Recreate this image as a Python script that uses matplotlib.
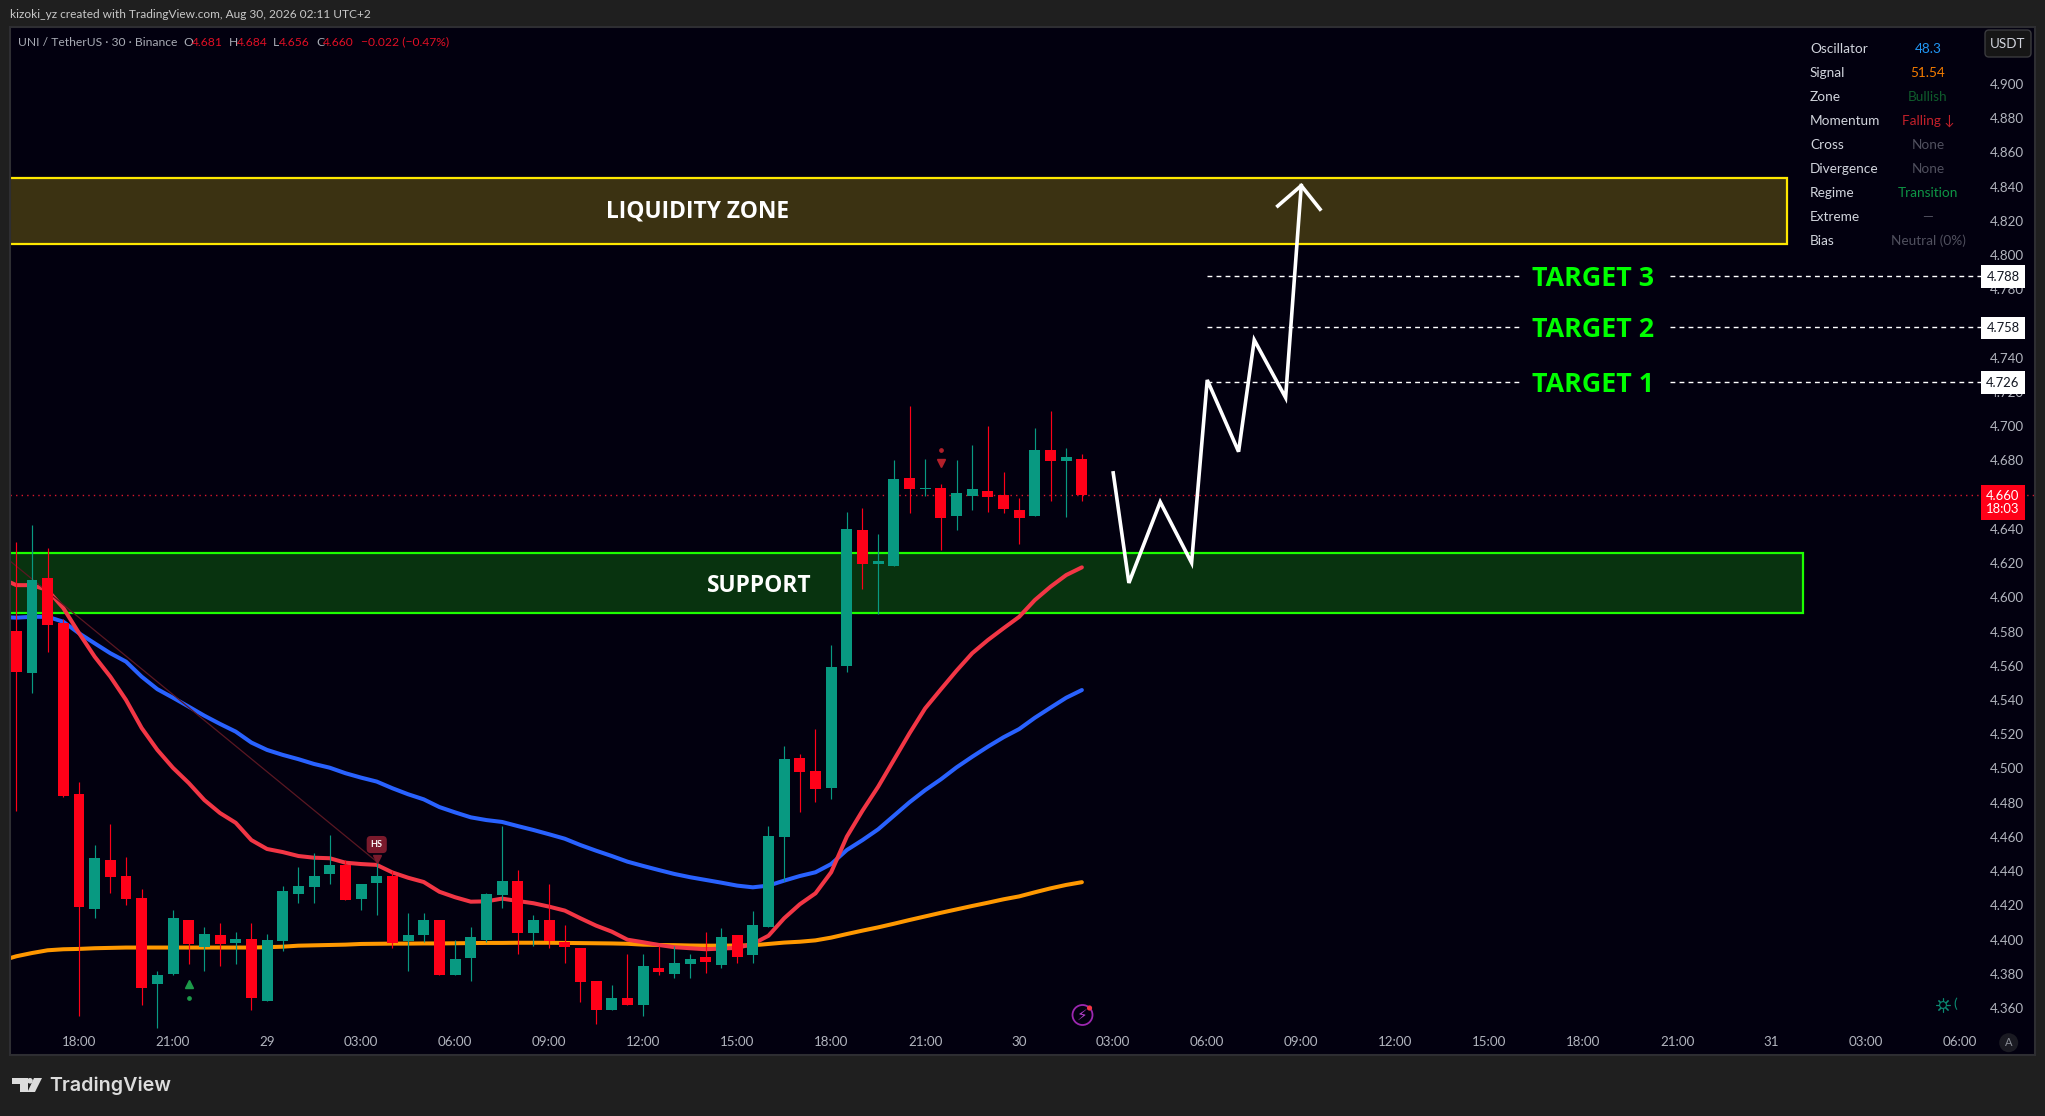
import matplotlib
matplotlib.use('Agg')
import matplotlib.pyplot as plt
from matplotlib.patches import Rectangle, Polygon, Circle, FancyBboxPatch

plt.rcParams['font.family'] = ['Lato', 'DejaVu Sans']

# candles, 30 min bars, index 0 is the 18:00 bar of the 28th
bar_index = list(range(-4, 65))
opens = [4.5803, 4.5559, 4.6112, 4.5850, 4.4850, 4.4180, 4.4465, 4.4371, 4.4243, 4.3741,
         4.3800, 4.4114, 4.3958, 4.4027, 4.3981, 4.4003, 4.3642, 4.3994, 4.4268, 4.4309,
         4.4380, 4.4436, 4.4239, 4.4332, 4.4371, 4.3994, 4.4027, 4.4114, 4.3790, 4.3893,
         4.3999, 4.4260, 4.4342, 4.4040, 4.4114, 4.3987, 4.3953, 4.3757, 4.3589, 4.3658,
         4.3619, 4.3833, 4.3800, 4.3859, 4.3898, 4.3853, 4.4027, 4.3912, 4.4071, 4.4601,
         4.5060, 4.4984, 4.4887, 4.5601, 4.6394, 4.6197, 4.6185, 4.6698, 4.6635, 4.6639,
         4.6477, 4.6594, 4.6622, 4.6598, 4.6511, 4.6477, 4.6861, 4.6797, 4.6810]
highs = [4.6324, 4.6423, 4.6289, 4.5873, 4.4920, 4.4552, 4.4675, 4.4480, 4.4295, 4.3815,
         4.4173, 4.4114, 4.4073, 4.4097, 4.4044, 4.4097, 4.4032, 4.4313, 4.4424, 4.4506,
         4.4611, 4.4465, 4.4325, 4.4455, 4.4398, 4.4155, 4.4155, 4.4114, 4.3997, 4.4073,
         4.4270, 4.4663, 4.4406, 4.4143, 4.4325, 4.4085, 4.3953, 4.3757, 4.3734, 4.3915,
         4.3915, 4.3962, 4.3962, 4.3915, 4.4044, 4.4067, 4.4027, 4.4167, 4.4663, 4.5130,
         4.5084, 4.5230, 4.5721, 4.6498, 4.6522, 4.6370, 4.6803, 4.7118, 4.6809, 4.6663,
         4.6803, 4.6891, 4.7001, 4.6732, 4.6581, 4.6990, 4.7089, 4.6873, 4.6840]
lows = [4.4752, 4.5443, 4.5682, 4.4834, 4.3554, 4.4127, 4.4274, 4.4204, 4.3619, 4.3484,
        4.3794, 4.3859, 4.3817, 4.3846, 4.3859, 4.3589, 4.3642, 4.3935, 4.4215, 4.4215,
        4.4327, 4.4233, 4.4174, 4.4145, 4.3948, 4.3817, 4.3987, 4.3790, 4.3790, 4.3759,
        4.3987, 4.4186, 4.3918, 4.3964, 4.3948, 4.3865, 4.3636, 4.3508, 4.3589, 4.3617,
        4.3554, 4.3794, 4.3777, 4.3777, 4.3806, 4.3835, 4.3865, 4.3865, 4.4071, 4.4344,
        4.4747, 4.4805, 4.4823, 4.5565, 4.6048, 4.5904, 4.6185, 4.6495, 4.6594, 4.6274,
        4.6396, 4.6513, 4.6501, 4.6495, 4.6314, 4.6477, 4.6565, 4.6471, 4.6560]
closes = [4.5565, 4.6101, 4.5840, 4.4840, 4.4192, 4.4476, 4.4366, 4.4239, 4.3718, 4.3792,
          4.4126, 4.3972, 4.4032, 4.3972, 4.4005, 4.3659, 4.3997, 4.4284, 4.4313, 4.4371,
          4.4436, 4.4233, 4.4325, 4.4371, 4.3981, 4.4027, 4.4114, 4.3790, 4.3886, 4.4015,
          4.4266, 4.4342, 4.4040, 4.4114, 4.3994, 4.3958, 4.3754, 4.3589, 4.3658, 4.3617,
          4.3845, 4.3810, 4.3862, 4.3886, 4.3871, 4.4015, 4.3900, 4.4085, 4.4605, 4.5054,
          4.4980, 4.4881, 4.5592, 4.6400, 4.6197, 4.6213, 4.6692, 4.6633, 4.6639, 4.6466,
          4.6610, 4.6633, 4.6588, 4.6518, 4.6466, 4.6861, 4.6799, 4.6820, 4.6600]

# moving averages, first value is one bar before the first candle
ma_index = list(range(-5, 65))
ma_fast = [4.6112, 4.6071, 4.6071, 4.6042, 4.5937, 4.5791, 4.5653, 4.5536, 4.5400, 4.5236,
           4.5108, 4.5003, 4.4915, 4.4815, 4.4739, 4.4682, 4.4581, 4.4529, 4.4511, 4.4488,
           4.4478, 4.4475, 4.4449, 4.4441, 4.4436, 4.4392, 4.4361, 4.4336, 4.4279, 4.4247,
           4.4221, 4.4223, 4.4239, 4.4225, 4.4212, 4.4192, 4.4169, 4.4124, 4.4081, 4.4046,
           4.3999, 4.3984, 4.3968, 4.3955, 4.3949, 4.3943, 4.3947, 4.3951, 4.3974, 4.4022,
           4.4124, 4.4206, 4.4270, 4.4393, 4.4601, 4.4753, 4.4893, 4.5049, 4.5205, 4.5351,
           4.5462, 4.5571, 4.5673, 4.5750, 4.5819, 4.5886, 4.5984, 4.6062, 4.6130, 4.6175]
ma_mid = [4.5885, 4.5881, 4.5886, 4.5886, 4.5857, 4.5790, 4.5731, 4.5673, 4.5624, 4.5536,
          4.5463, 4.5413, 4.5361, 4.5308, 4.5260, 4.5215, 4.5151, 4.5108, 4.5079, 4.5054,
          4.5026, 4.5004, 4.4972, 4.4946, 4.4923, 4.4884, 4.4849, 4.4819, 4.4774, 4.4743,
          4.4714, 4.4698, 4.4687, 4.4663, 4.4640, 4.4615, 4.4589, 4.4552, 4.4519, 4.4488,
          4.4455, 4.4430, 4.4406, 4.4383, 4.4364, 4.4348, 4.4332, 4.4315, 4.4305, 4.4315,
          4.4344, 4.4371, 4.4393, 4.4441, 4.4523, 4.4581, 4.4644, 4.4723, 4.4802, 4.4873,
          4.4936, 4.5006, 4.5068, 4.5127, 4.5182, 4.5230, 4.5296, 4.5355, 4.5413, 4.5458]
ma_slow = [4.3875, 4.3902, 4.3921, 4.3937, 4.3943, 4.3945, 4.3949, 4.3951, 4.3953, 4.3953,
           4.3953, 4.3953, 4.3953, 4.3953, 4.3953, 4.3953, 4.3953, 4.3955, 4.3958, 4.3964,
           4.3966, 4.3968, 4.3970, 4.3974, 4.3975, 4.3976, 4.3976, 4.3977, 4.3977, 4.3978,
           4.3979, 4.3980, 4.3980, 4.3981, 4.3981, 4.3981, 4.3980, 4.3979, 4.3978, 4.3977,
           4.3975, 4.3970, 4.3968, 4.3967, 4.3965, 4.3964, 4.3964, 4.3965, 4.3966, 4.3974,
           4.3982, 4.3987, 4.3995, 4.4011, 4.4032, 4.4052, 4.4071, 4.4092, 4.4114, 4.4135,
           4.4156, 4.4176, 4.4196, 4.4215, 4.4235, 4.4252, 4.4276, 4.4299, 4.4319, 4.4335]

# projected path drawn on the chart
path_index = [66, 67, 69, 71, 72, 74, 75, 77, 78]
path_price = [4.6727, 4.6084, 4.6557, 4.6202, 4.7270, 4.6851, 4.7504, 4.7167, 4.8406]
head_index = [76.5, 78, 79.2]
head_price = [4.8287, 4.8406, 4.8268]

trend_index = [-4.4, 19]
trend_price = [4.6212, 4.4455]

liquidity_zone = (4.8065, 4.8452)
support_zone = (4.5910, 4.6261)
target_prices = [4.726, 4.758, 4.788]
target_names = ['TARGET 1', 'TARGET 2', 'TARGET 3']
last_price = 4.660

price_ticks = [4.36, 4.38, 4.40, 4.42, 4.44, 4.46, 4.48, 4.50, 4.52, 4.54, 4.56, 4.58, 4.60, 4.62,
               4.64, 4.66, 4.68, 4.70, 4.72, 4.74, 4.76, 4.78, 4.80, 4.82, 4.84, 4.86, 4.88, 4.90]
time_ticks = list(range(0, 121, 6))
time_labels = ['18:00', '21:00', '29', '03:00', '06:00', '09:00', '12:00', '15:00', '18:00', '21:00', '30',
               '03:00', '06:00', '09:00', '12:00', '15:00', '18:00', '21:00', '31', '03:00', '06:00']

table_names = ['Oscillator', 'Signal', 'Zone', 'Momentum', 'Cross', 'Divergence', 'Regime', 'Extreme', 'Bias']
table_values = ['48.3', '51.54', 'Bullish', 'Falling ↓', 'None', 'None', 'Transition', '—', 'Neutral (0%)']
table_colors = ['#2196f3', '#f57c00', '#0f5c2c', '#c2202a', '#50505e', '#50505e', '#0e9445', '#50505e', '#50505e']

UP = '#089981'
DOWN = '#ff0018'
BG = '#02000f'
PAGE = '#1f1f1f'
BOLD = ['Open Sans', 'DejaVu Sans']

fig = plt.figure(figsize=(20.45, 11.16), dpi=100, facecolor=PAGE)
ax = fig.add_axes([10 / 2045, 61 / 1116, 2025 / 2045, 1028 / 1116], facecolor=BG)
ax.set_xlim((10 - 79) / 15.67, (2035 - 79) / 15.67)
ax.set_ylim(4.3325, 4.9333)
for s in ax.spines.values():
    s.set_color('#2e2e32')
    s.set_linewidth(1.5)

# zones
ax.add_patch(Rectangle((-8, liquidity_zone[0]), 117, liquidity_zone[1] - liquidity_zone[0],
                       fc='#3b3212', ec='#ffe800', lw=1.6, zorder=1))
ax.add_patch(Rectangle((-8, support_zone[0]), 118, support_zone[1] - support_zone[0],
                       fc='#08330f', ec='#1cff00', lw=1.6, zorder=1))
ax.text(39.5, 4.8270, 'LIQUIDITY ZONE', color='white', fontsize=16.4, fontweight='bold', family=BOLD,
        ha='center', va='center_baseline', zorder=6)
ax.text(43.4, 4.6086, 'SUPPORT', color='white', fontsize=16.4, fontweight='bold', family=BOLD,
        ha='center', va='center_baseline', zorder=6)

ax.axhline(last_price, color='#d8162c', lw=1, ls=(0, (1, 3)), zorder=1.5)
ax.plot(trend_index, trend_price, color='#5a1722', lw=0.9, zorder=2.2)

ax.plot(ma_index, ma_slow, color='#ff9800', lw=2.9, zorder=2, solid_capstyle='round')
ax.plot(ma_index, ma_mid, color='#2962ff', lw=2.9, zorder=2.05, solid_capstyle='round')
ax.plot(ma_index, ma_fast, color='#f23645', lw=2.9, zorder=2.1, solid_capstyle='round')

# candles on top of the averages
colors = [UP if c >= o else DOWN for o, c in zip(opens, closes)]
ax.vlines(bar_index, lows, highs, colors=colors, lw=0.85, zorder=3)
bottoms = [min(o, c) for o, c in zip(opens, closes)]
heights = [max(abs(c - o), 0.0006) for o, c in zip(opens, closes)]
ax.bar(bar_index, heights, bottom=bottoms, width=0.7, color=colors, zorder=3.1)

# targets
for price, name in zip(target_prices, target_names):
    ax.plot([72, 92], [price, price], color='white', lw=1, ls=(0, (3.5, 3)), zorder=4)
    ax.plot([101.5, 124], [price, price], color='white', lw=1, ls=(0, (3.5, 3)), zorder=4)
    ax.text(96.6, price, name, color='#00ff00', fontsize=19.4, fontweight='bold', family=BOLD,
            ha='center', va='center_baseline', zorder=6)

ax.plot(path_index, path_price, color='white', lw=2.6, zorder=5, solid_joinstyle='miter')
ax.plot(head_index, head_price, color='white', lw=2.6, zorder=5, solid_joinstyle='miter')

# little signal markers
ax.plot([7], [4.3740], marker='^', ms=6, color='#1d9a4a', zorder=4)
ax.plot([7], [4.3658], marker='o', ms=2.4, color='#1d9a4a', zorder=4)
ax.plot([55], [4.6785], marker='v', ms=6, color='#b3202a', zorder=4)
ax.plot([55], [4.6861], marker='o', ms=2.4, color='#b3202a', zorder=4)
ax.plot([19], [4.4470], marker='v', ms=6, color='#7a1a2c', zorder=4)
ax.text(19, 4.4555, 'HS', color='white', fontsize=6.5, fontweight='bold', ha='center', va='center', zorder=5,
        bbox=dict(boxstyle='round,pad=0.45', fc='#7a1a2c', ec='none'))

# axis labels sit inside the pane, like TradingView
ax.yaxis.tick_right()
ax.set_yticks(price_ticks)
ax.set_yticklabels(['%.3f' % p for p in price_ticks])
ax.tick_params(axis='y', length=0, pad=-32.5, labelsize=9.6, labelcolor='#b2b5be')
ax.set_xticks(time_ticks)
ax.set_xticklabels(time_labels)
ax.tick_params(axis='x', length=0, pad=-13.6, labelsize=9.6, labelcolor='#b2b5be')

# price labels on the scale
yt = ax.get_yaxis_transform()
for price in target_prices:
    ax.text(0.9842, price, '%.3f' % price, transform=yt, color='#131722', fontsize=9.4, ha='center',
            va='center_baseline', zorder=10, bbox=dict(boxstyle='square,pad=0.4', fc='white', ec='none'))
ax.text(0.9842, last_price - 0.0045, '%.3f\n18:03' % last_price, transform=yt, color='white', fontsize=9.4,
        ha='center', va='center', linespacing=1.1, zorder=10,
        bbox=dict(boxstyle='square,pad=0.4', fc='#ff0018', ec='none'))

# page furniture, in pixels
ov = fig.add_axes([0, 0, 1, 1], zorder=5)
ov.set_xlim(0, 2045)
ov.set_ylim(1116, 0)
ov.axis('off')
ov.patch.set_visible(False)

ov.text(10, 15, 'kizoki_yz created with TradingView.com, Aug 30, 2026 02:11 UTC+2', color='#c8c8c8',
        fontsize=8.6, va='center')
ov.text(18, 42, 'UNI / TetherUS · 30 · Binance', color='#a8abb4', fontsize=8.7, va='center')
for x, s in [(183.7, 'O'), (228.7, 'H'), (273.3, 'L'), (316, 'C')]:
    ov.text(x, 42, s, color='#a8abb4', fontsize=8.7, va='center')
for x, s in [(191.7, '4.681'), (236.7, '4.684'), (279.3, '4.656'), (323.3, '4.660'), (360.7, '−0.022 (−0.47%)')]:
    ov.text(x, 42, s, color='#e00f24', fontsize=8.7, va='center')

for k, name in enumerate(table_names):
    y = 48.8 + k * 24
    ov.text(1810, y, name, color='#d1d4dc', fontsize=9.8, va='center')
    ov.text(1928, y, table_values[k], color=table_colors[k], fontsize=9.8, ha='center', va='center')

ov.add_patch(FancyBboxPatch((1988, 33), 40, 21, boxstyle='round,pad=3,rounding_size=4',
                            fc='#161616', ec='#3a3a3e', lw=1))
ov.text(2008, 44, 'USDT', color='#d1d4dc', fontsize=9.6, ha='center', va='center')

# lightning, day/night and auto buttons
ov.add_patch(Circle((1082.5, 1015), 10, fc='none', ec='#9c27b0', lw=1.3))
ov.add_patch(Circle((1089.5, 1008), 2.6, fc='#f23645', ec='none'))
ov.text(1082.5, 1015, '⚡', color='#b040c8', fontsize=11, ha='center', va='center',
        family=['DejaVu Sans'])
ov.plot([1943], [1005], marker=(8, 2, 0), ms=10, mew=0.8, color='#0b8a72')
ov.add_patch(Circle((1943, 1005), 3.4, fc=BG, ec='#0b8a72', lw=0.8, zorder=3))
ov.text(1955, 1004, '(', color='#0b8a72', fontsize=10, ha='center', va='center')
ov.add_patch(Circle((2008.7, 1042.7), 9.5, fc='#1a1a22', ec='none'))
ov.text(2008.7, 1043, 'A', color='#8a8d96', fontsize=8, ha='center', va='center')

# TradingView logo
logo = '#dcdcdc'
ov.add_patch(Polygon([(12, 1078), (28, 1078), (28, 1092), (20, 1092), (20, 1084), (12, 1084)], fc=logo, ec='none'))
ov.add_patch(Circle((30, 1080.8), 2.8, fc=logo, ec='none'))
ov.add_patch(Polygon([(34, 1078), (42, 1078), (35, 1092), (27.5, 1092)], fc=logo, ec='none'))
ov.text(49, 1086, 'TradingView', color=logo, fontsize=14.2, fontweight='semibold', va='center', family=['Inter'])

fig.savefig('out.png', dpi=100, facecolor=PAGE)
